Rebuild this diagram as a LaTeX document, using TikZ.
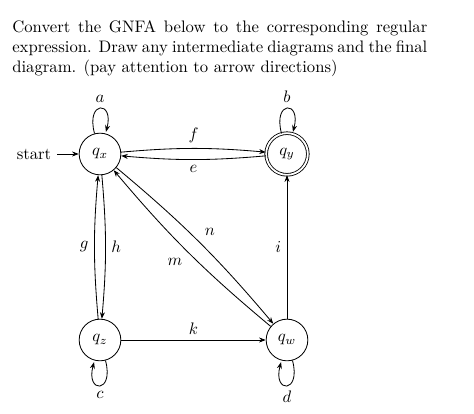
\documentclass[tikz,border=0pt]{standalone}
\usetikzlibrary{arrows.meta,automata}
\begin{document}
\begin{tikzpicture}[x=0.6pt,y=-0.6pt,
  >={Stealth[length=4pt,width=3pt]},
  every edge/.style={draw,line width=0.5pt},
  st/.style={circle,draw,line width=0.5pt,minimum size=25pt,inner sep=0pt},
  acc/.style={st,double,double distance=1.1pt},
  auto]
\useasboundingbox (0,0) rectangle (474,414);
\node[anchor=north west,inner sep=0pt,text width=249pt,align=justify] (txt) at (12,20.5)
  {Convert the GNFA below to the corresponding regular\linebreak
   expression. Draw any intermediate diagrams and the final\linebreak
   diagram. (pay attention to arrow directions)};
\node[st] (qx) at (100,154) {$q_x$};
\node[acc] (qy) at (287,154) {$q_y$};
\node[st] (qz) at (100,340) {$q_z$};
\node[st] (qw) at (287,340) {$q_w$};
\node (start) at (34,154) {start};
\draw[->,line width=0.5pt] (start) -- (qx);
\path[->,min distance=7.3mm]
  (qx) edge[loop above] node {$a$} ()
  (qy) edge[loop above] node {$b$} ()
  (qz) edge[loop below] node {$c$} ()
  (qw) edge[loop below] node {$d$} ();
\path[->]
  (qx) edge[bend left=5] node {$f$} (qy)
  (qy) edge[bend left=5] node {$e$} (qx)
  (qz) edge[bend left=5] node {$g$} (qx)
  (qx) edge[bend left=5] node {$h$} (qz)
  (qx) edge[bend left=5] node {$n$} (qw)
  (qw) edge[bend left=5] node {$m$} (qx)
  (qw) edge node {$i$} (qy)
  (qz) edge node {$k$} (qw);
\end{tikzpicture}
\end{document}
